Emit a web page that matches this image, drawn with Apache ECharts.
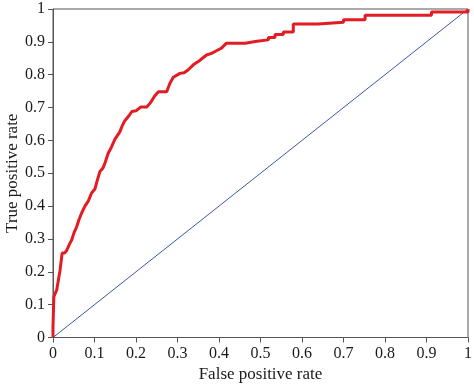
<!DOCTYPE html>
<html>
<head>
<meta charset="utf-8">
<script src="https://cdn.jsdelivr.net/npm/echarts@6/dist/echarts.min.js"></script>
<style>html,body{margin:0;padding:0;background:#fff}#c{width:474px;height:387px}</style>
</head>
<body>
<div id="c"></div>
<script>
const fpr = [0,0,0.002,0.009,0.013,0.017,0.022,0.028,0.033,0.040,0.045,0.051,0.057,0.063,0.069,0.077,0.085,0.093,0.101,0.107,0.113,0.120,0.125,0.133,0.141,0.149,0.161,0.167,0.173,0.183,0.190,0.200,0.212,0.226,0.235,0.245,0.254,0.274,0.282,0.290,0.306,0.316,0.326,0.338,0.350,0.360,0.370,0.382,0.394,0.406,0.418,0.463,0.463,0.491,0.491,0.519,0.519,0.535,0.535,0.555,0.555,0.579,0.579,0.639,0.639,0.700,0.700,0.752,0.752,0.912,0.912,1,1];
const tpr = [0,0.033,0.124,0.145,0.175,0.205,0.257,0.257,0.265,0.285,0.297,0.320,0.337,0.360,0.379,0.400,0.415,0.440,0.452,0.480,0.505,0.515,0.530,0.561,0.580,0.603,0.626,0.645,0.660,0.675,0.688,0.690,0.702,0.702,0.715,0.735,0.748,0.748,0.775,0.792,0.804,0.806,0.815,0.830,0.840,0.850,0.860,0.865,0.873,0.881,0.896,0.896,0.902,0.902,0.906,0.906,0.913,0.913,0.922,0.922,0.930,0.930,0.954,0.954,0.960,0.960,0.967,0.967,0.981,0.981,0.991,0.991,1];
const diagX = [0,1];
const diagY = [0,1];
const xName = 'False positive rate';
const yName = 'True positive rate';

const chart = echarts.init(document.getElementById('c'), null, {renderer:'canvas'});
const font = 'Liberation Serif';
const axisCommon = {
  type:'value', min:0, max:1, interval:0.1,
  nameLocation:'middle',
  nameMoveOverlap:false,
  nameTextStyle:{fontFamily:font, fontSize:17, color:'#1a1a1a'},
  axisLine:{show:true, lineStyle:{color:'#555', width:1}},
  axisTick:{show:true, length:5, lineStyle:{color:'#555'}},
  splitLine:{show:false},
  axisLabel:{fontFamily:font, fontSize:16, color:'#1a1a1a', margin:8}
};
chart.setOption({
  animation:false,
  backgroundColor:'#fff',
  grid:{left:53, right:6, top:9, bottom:49.5, show:true, borderColor:'#555', borderWidth:1, containLabel:false, outerBoundsMode:'none'},
  xAxis:Object.assign({}, axisCommon, {name:xName, nameGap:29}),
  yAxis:Object.assign({}, axisCommon, {name:yName, nameGap:32}),
  series:[
    {type:'line', data:diagX.map((v,i)=>[v,diagY[i]]), symbol:'none', lineStyle:{color:'#3d56a6', width:1}, z:1},
    {type:'line', data:fpr.map((v,i)=>[v,tpr[i]]), symbol:'none', lineStyle:{color:'#e31b23', width:3}, z:2}
  ]
});
</script>
</body>
</html>
